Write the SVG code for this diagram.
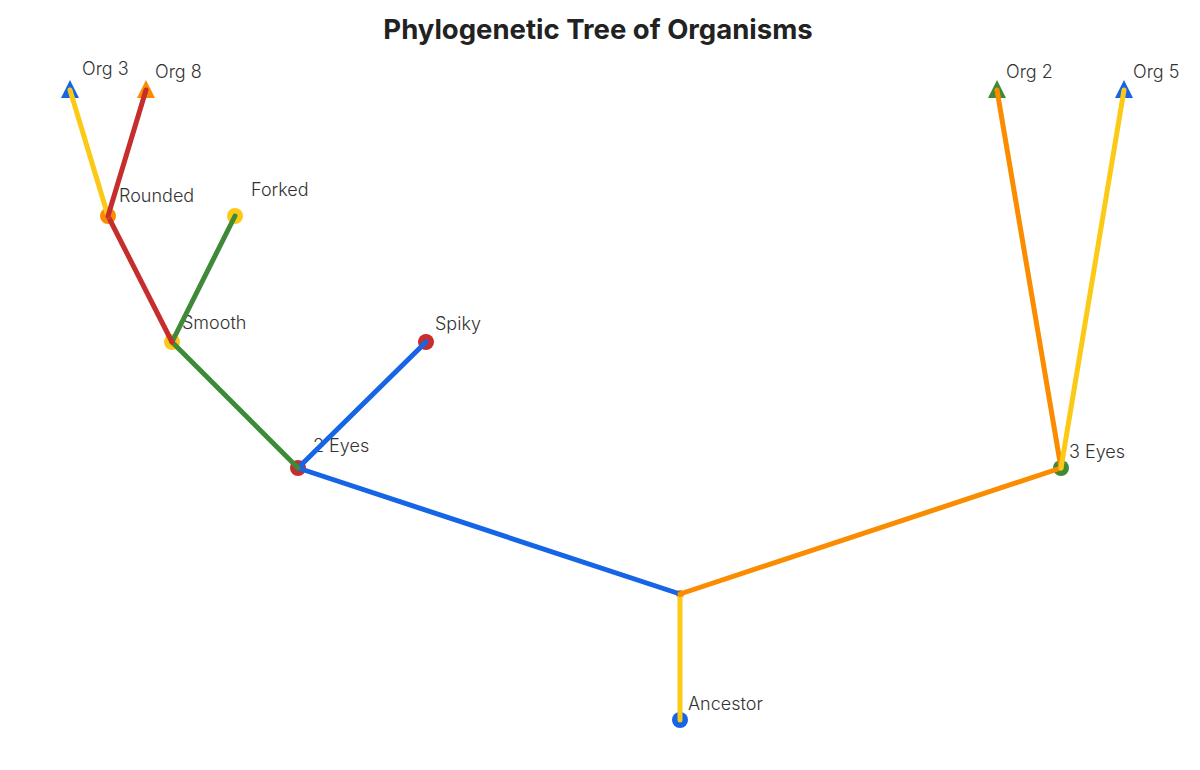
<svg xmlns="http://www.w3.org/2000/svg" width="1200" height="770" viewBox="0 0 1200 770">
<style>
text{font-family:"Inter","Lato","Liberation Sans",sans-serif;}
.title{font-size:27.5px;font-weight:700;fill:#222;}
.lbl{font-size:18px;font-weight:300;fill:#333;}
.e{stroke-width:5;stroke-linecap:round;fill:none;}
.blue{fill:#1565e6;} .red{fill:#c62e2e;} .green{fill:#3f8a38;} .yellow{fill:#fcca16;} .orange{fill:#fb8c00;}
</style>
<rect width="1200" height="770" fill="#fff"/>
<text class="title" x="598" y="39" text-anchor="middle">Phylogenetic Tree of Organisms</text>
<g id="nodes">
<g id="ancestor"><circle class="blue" cx="680" cy="720" r="8"/><text class="lbl" x="688" y="710">Ancestor</text></g>
<g id="root"><circle class="orange" cx="680" cy="594" r="4"/></g>
<g id="eyes2"><circle class="red" cx="298" cy="468" r="8"/><text class="lbl" x="313" y="452">2 Eyes</text></g>
<g id="eyes3"><circle class="green" cx="1061" cy="468" r="8"/><text class="lbl" x="1069" y="458">3 Eyes</text></g>
<g id="spiky"><circle class="red" cx="426" cy="342" r="8"/><text class="lbl" x="435" y="330">Spiky</text></g>
<g id="smooth"><circle class="yellow" cx="172" cy="342" r="8"/><text class="lbl" x="182" y="329">Smooth</text></g>
<g id="forked"><circle class="yellow" cx="235" cy="216" r="8"/><text class="lbl" x="251" y="196">Forked</text></g>
<g id="rounded"><circle class="orange" cx="108" cy="216" r="8"/><text class="lbl" x="119" y="202">Rounded</text></g>
<g id="org3"><polygon class="blue" points="70,80 79,98 61,98"/><text class="lbl" x="82" y="75">Org 3</text></g>
<g id="org8"><polygon class="orange" points="146,80 155,98 137,98"/><text class="lbl" x="155" y="78">Org 8</text></g>
<g id="org2"><polygon class="green" points="997,80 1006,98 988,98"/><text class="lbl" x="1006" y="78">Org 2</text></g>
<g id="org5"><polygon class="blue" points="1124,80 1133,98 1115,98"/><text class="lbl" x="1133" y="78">Org 5</text></g>
</g>
<g id="connectors">
<line class="e" stroke="#fcca16" x1="680" y1="720" x2="680" y2="594"/>
<line class="e" stroke="#1565e6" x1="680" y1="594" x2="298" y2="468"/>
<line class="e" stroke="#fb8c00" x1="680" y1="594" x2="1061" y2="468"/>
<line class="e" stroke="#1565e6" x1="298" y1="468" x2="426" y2="342"/>
<line class="e" stroke="#3f8a38" x1="298" y1="468" x2="172" y2="342"/>
<line class="e" stroke="#3f8a38" x1="172" y1="342" x2="235" y2="216"/>
<line class="e" stroke="#c62e2e" x1="172" y1="342" x2="108" y2="216"/>
<line class="e" stroke="#fcca16" x1="108" y1="216" x2="70" y2="90"/>
<line class="e" stroke="#c62e2e" x1="108" y1="216" x2="146" y2="90"/>
<line class="e" stroke="#fb8c00" x1="1061" y1="468" x2="997" y2="90"/>
<line class="e" stroke="#fcca16" x1="1061" y1="468" x2="1124" y2="90"/>
</g>
</svg>
